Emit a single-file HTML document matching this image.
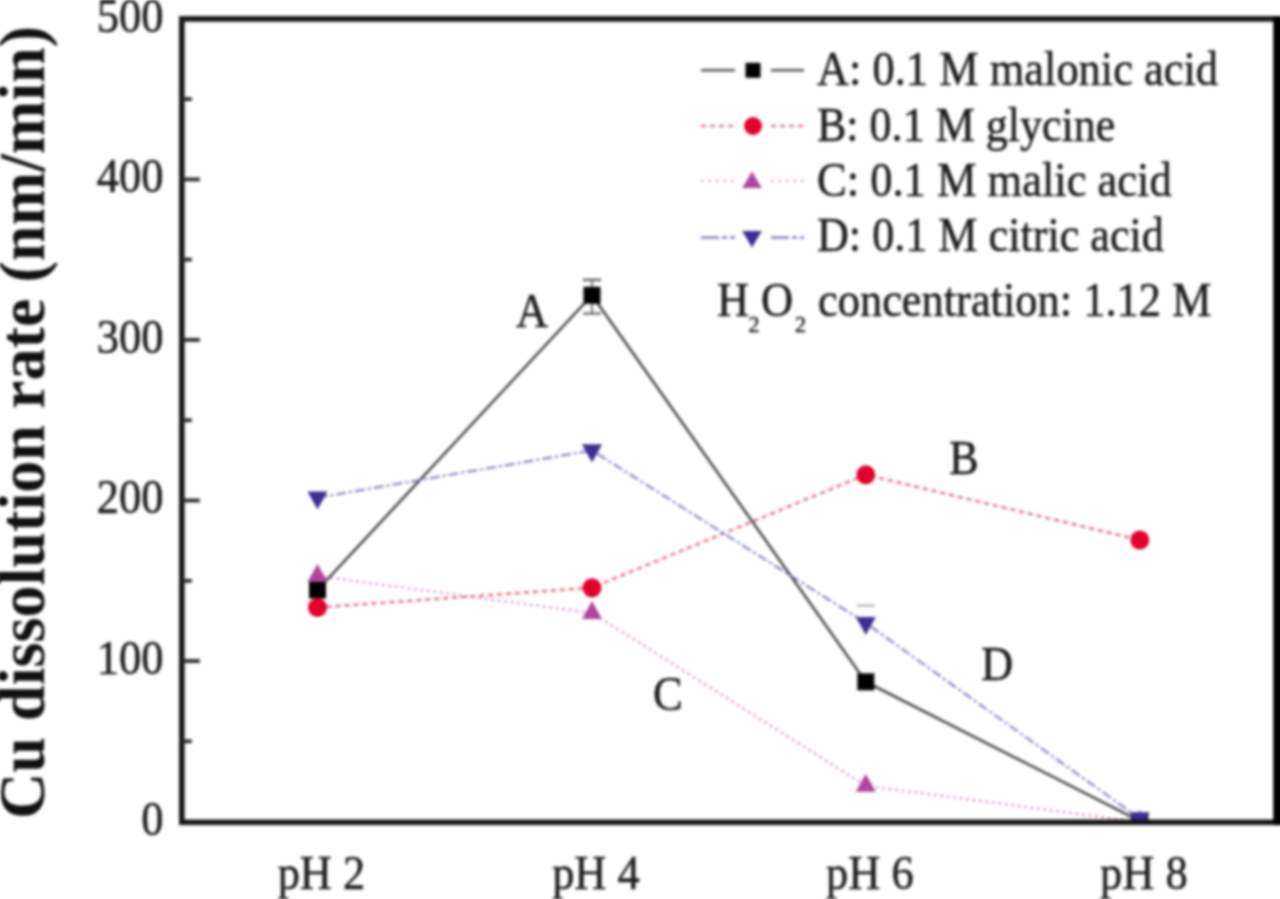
<!DOCTYPE html>
<html><head><meta charset="utf-8"><style>
html,body{margin:0;padding:0;background:#fff;width:1280px;height:899px;overflow:hidden}
svg{display:block;position:absolute;left:-20px;top:-20px;font-family:"Liberation Serif",serif;filter:blur(1.8px)}
</style></head><body>
<svg width="1320" height="939" viewBox="-20 -20 1320 939">
<defs><clipPath id="plotclip"><rect x="181.8" y="18.9" width="1094.8" height="804.9"/></clipPath></defs>
<rect x="-20" y="-20" width="1320" height="939" fill="#fff"/>
<g clip-path="url(#plotclip)">
<polyline points="317.5,590.0 592.0,295.3 865.8,681.8 1139.8,821.0" fill="none" stroke="#333" stroke-width="2.3"/>
<line x1="592.0" y1="279.8" x2="592.0" y2="313.5" stroke="#555" stroke-width="1.6"/><line x1="583.0" y1="279.8" x2="601.0" y2="279.8" stroke="#555" stroke-width="2.2"/><line x1="583.0" y1="313.5" x2="601.0" y2="313.5" stroke="#555" stroke-width="2.2"/>
<rect x="309.0" y="581.5" width="17" height="17" fill="#000"/>
<rect x="583.5" y="286.8" width="17" height="17" fill="#000"/>
<rect x="857.3" y="673.3" width="17" height="17" fill="#000"/>
<rect x="1131.3" y="812.5" width="17" height="17" fill="#000"/>
<polyline points="317.5,607.5 592.0,587.7 865.8,474.7 1139.8,540.0" fill="none" stroke="#e64a6a" stroke-width="2" stroke-dasharray="5 4"/>
<circle cx="317.5" cy="607.5" r="9.5" fill="#e2002c"/>
<circle cx="592.0" cy="587.7" r="9.5" fill="#e2002c"/>
<circle cx="865.8" cy="474.7" r="9.5" fill="#e2002c"/>
<circle cx="1139.8" cy="540.0" r="9.5" fill="#e2002c"/>
<polyline points="317.5,576.0 592.0,613.0 865.8,785.8 1139.8,822.0" fill="none" stroke="#d07cc0" stroke-width="2" stroke-dasharray="2.5 4"/>
<polygon points="317.5,564.0 327.5,582.0 307.5,582.0" fill="#b0459a"/>
<polygon points="592.0,601.0 602.0,619.0 582.0,619.0" fill="#b0459a"/>
<polygon points="865.8,773.8 875.8,791.8 855.8,791.8" fill="#b0459a"/>
<polygon points="1139.8,810.0 1149.8,828.0 1129.8,828.0" fill="#b0459a"/>
<polyline points="317.5,497.6 592.0,450.4 865.8,623.0 1139.8,818.6" fill="none" stroke="#7c76bc" stroke-width="2" stroke-dasharray="10 3 3 3"/>
<line x1="583.0" y1="445" x2="601.0" y2="445" stroke="#aaa" stroke-width="2"/>
<line x1="856.8" y1="605.5" x2="874.8" y2="605.5" stroke="#aaa" stroke-width="2"/>
<polygon points="317.5,509.6 327.5,491.6 307.5,491.6" fill="#3c2e92"/>
<polygon points="592.0,462.4 602.0,444.4 582.0,444.4" fill="#3c2e92"/>
<polygon points="865.8,635.0 875.8,617.0 855.8,617.0" fill="#3c2e92"/>
<polygon points="1139.8,830.6 1149.8,812.6 1129.8,812.6" fill="#3c2e92"/>
</g>
<rect x="181.8" y="18.9" width="1094.8" height="803.4" fill="none" stroke="#161616" stroke-width="5.6"/>
<rect x="1273.3" y="16.099999999999998" width="20" height="809.0" fill="#000"/>
<line x1="181.8" y1="741.3" x2="191.8" y2="741.3" stroke="#2a2a2a" stroke-width="3.8"/>
<line x1="181.8" y1="661.0" x2="199.8" y2="661.0" stroke="#2a2a2a" stroke-width="3.8"/>
<line x1="181.8" y1="580.8" x2="191.8" y2="580.8" stroke="#2a2a2a" stroke-width="3.8"/>
<line x1="181.8" y1="500.5" x2="199.8" y2="500.5" stroke="#2a2a2a" stroke-width="3.8"/>
<line x1="181.8" y1="420.2" x2="191.8" y2="420.2" stroke="#2a2a2a" stroke-width="3.8"/>
<line x1="181.8" y1="339.9" x2="199.8" y2="339.9" stroke="#2a2a2a" stroke-width="3.8"/>
<line x1="181.8" y1="259.6" x2="191.8" y2="259.6" stroke="#2a2a2a" stroke-width="3.8"/>
<line x1="181.8" y1="179.4" x2="199.8" y2="179.4" stroke="#2a2a2a" stroke-width="3.8"/>
<line x1="181.8" y1="99.1" x2="191.8" y2="99.1" stroke="#2a2a2a" stroke-width="3.8"/>
<text transform="translate(163.50,834.60) scale(1,1.08)" font-size="44.5" font-family="'Liberation Serif', serif" fill="#1c1c1c" stroke="#1c1c1c" stroke-width="0.5" text-anchor="end">0</text>
<text transform="translate(163.50,674.04) scale(1,1.08)" font-size="44.5" font-family="'Liberation Serif', serif" fill="#1c1c1c" stroke="#1c1c1c" stroke-width="0.5" text-anchor="end">100</text>
<text transform="translate(163.50,513.48) scale(1,1.08)" font-size="44.5" font-family="'Liberation Serif', serif" fill="#1c1c1c" stroke="#1c1c1c" stroke-width="0.5" text-anchor="end">200</text>
<text transform="translate(163.50,352.92) scale(1,1.08)" font-size="44.5" font-family="'Liberation Serif', serif" fill="#1c1c1c" stroke="#1c1c1c" stroke-width="0.5" text-anchor="end">300</text>
<text transform="translate(163.50,192.36) scale(1,1.08)" font-size="44.5" font-family="'Liberation Serif', serif" fill="#1c1c1c" stroke="#1c1c1c" stroke-width="0.5" text-anchor="end">400</text>
<text transform="translate(163.50,31.80) scale(1,1.08)" font-size="44.5" font-family="'Liberation Serif', serif" fill="#1c1c1c" stroke="#1c1c1c" stroke-width="0.5" text-anchor="end">500</text>
<text transform="translate(321.50,889.00) scale(1,1.08)" font-size="44.5" font-family="'Liberation Serif', serif" fill="#1c1c1c" stroke="#1c1c1c" stroke-width="0.5" text-anchor="middle">pH 2</text>
<text transform="translate(596.00,889.00) scale(1,1.08)" font-size="44.5" font-family="'Liberation Serif', serif" fill="#1c1c1c" stroke="#1c1c1c" stroke-width="0.5" text-anchor="middle">pH 4</text>
<text transform="translate(869.80,889.00) scale(1,1.08)" font-size="44.5" font-family="'Liberation Serif', serif" fill="#1c1c1c" stroke="#1c1c1c" stroke-width="0.5" text-anchor="middle">pH 6</text>
<text transform="translate(1143.80,889.00) scale(1,1.08)" font-size="44.5" font-family="'Liberation Serif', serif" fill="#1c1c1c" stroke="#1c1c1c" stroke-width="0.5" text-anchor="middle">pH 8</text>
<text transform="translate(43.5,819) rotate(-90)" x="0" y="0" font-size="66" font-weight="bold" font-family="'Liberation Serif', serif" fill="#111" textLength="793" lengthAdjust="spacingAndGlyphs">Cu dissolution rate (nm/min)</text>
<text transform="translate(516.00,327.00) scale(1,1.08)" font-size="44.5" font-family="'Liberation Serif', serif" fill="#1c1c1c" stroke="#1c1c1c" stroke-width="0.5">A</text>
<text transform="translate(949.00,473.50) scale(1,1.08)" font-size="44.5" font-family="'Liberation Serif', serif" fill="#1c1c1c" stroke="#1c1c1c" stroke-width="0.5">B</text>
<text transform="translate(653.00,710.00) scale(1,1.08)" font-size="44.5" font-family="'Liberation Serif', serif" fill="#1c1c1c" stroke="#1c1c1c" stroke-width="0.5">C</text>
<text transform="translate(981.00,680.00) scale(1,1.08)" font-size="44.5" font-family="'Liberation Serif', serif" fill="#1c1c1c" stroke="#1c1c1c" stroke-width="0.5">D</text>
<text transform="translate(817.00,84.80) scale(1,1.08)" font-size="44.5" font-family="'Liberation Serif', serif" fill="#1c1c1c" stroke="#1c1c1c" stroke-width="0.5" textLength="401" lengthAdjust="spacingAndGlyphs">A: 0.1 M malonic acid</text>
<line x1="701" y1="70.3" x2="735" y2="70.3" stroke="#555" stroke-width="2.4"/>
<line x1="771" y1="70.3" x2="804" y2="70.3" stroke="#555" stroke-width="2.4"/>
<rect x="745.5" y="62.8" width="15" height="15" fill="#000"/>
<text transform="translate(817.00,140.50) scale(1,1.08)" font-size="44.5" font-family="'Liberation Serif', serif" fill="#1c1c1c" stroke="#1c1c1c" stroke-width="0.5" textLength="298.4" lengthAdjust="spacingAndGlyphs">B: 0.1 M glycine</text>
<line x1="701" y1="126.0" x2="735" y2="126.0" stroke="#e8607a" stroke-width="2" stroke-dasharray="5 4"/>
<line x1="771" y1="126.0" x2="804" y2="126.0" stroke="#e8607a" stroke-width="2" stroke-dasharray="5 4"/>
<circle cx="753.0" cy="126.0" r="9" fill="#e2002c"/>
<text transform="translate(817.00,195.50) scale(1,1.08)" font-size="44.5" font-family="'Liberation Serif', serif" fill="#1c1c1c" stroke="#1c1c1c" stroke-width="0.5" textLength="354.7" lengthAdjust="spacingAndGlyphs">C: 0.1 M malic acid</text>
<line x1="701" y1="181.0" x2="735" y2="181.0" stroke="#d888c8" stroke-width="2" stroke-dasharray="2.5 5"/>
<line x1="771" y1="181.0" x2="804" y2="181.0" stroke="#d888c8" stroke-width="2" stroke-dasharray="2.5 5"/>
<polygon points="752.0,171.6 761.8,188.1 742.2,188.1" fill="#b0459a"/>
<text transform="translate(817.00,251.30) scale(1,1.08)" font-size="44.5" font-family="'Liberation Serif', serif" fill="#1c1c1c" stroke="#1c1c1c" stroke-width="0.5" textLength="346.8" lengthAdjust="spacingAndGlyphs">D: 0.1 M citric acid</text>
<line x1="701" y1="237.5" x2="735" y2="237.5" stroke="#6a62b0" stroke-width="2.2" stroke-dasharray="18 3 5 3"/>
<line x1="771" y1="237.5" x2="804" y2="237.5" stroke="#6a62b0" stroke-width="2.2" stroke-dasharray="18 3 5 3"/>
<polygon points="752.0,247.6 761.8,231.1 742.2,231.1" fill="#3c2e92"/>
<text transform="translate(717.00,315.90) scale(1,1.08)" font-size="44.5" font-family="'Liberation Serif', serif" fill="#1c1c1c" stroke="#1c1c1c" stroke-width="0.5">H</text>
<text transform="translate(748.50,332.00) scale(1,1.08)" font-size="22" font-family="'Liberation Serif', serif" fill="#1c1c1c" stroke="#1c1c1c" stroke-width="0.5">2</text>
<text transform="translate(761.00,315.90) scale(1,1.08)" font-size="44.5" font-family="'Liberation Serif', serif" fill="#1c1c1c" stroke="#1c1c1c" stroke-width="0.5">O</text>
<text transform="translate(795.00,332.00) scale(1,1.08)" font-size="22" font-family="'Liberation Serif', serif" fill="#1c1c1c" stroke="#1c1c1c" stroke-width="0.5">2</text>
<text transform="translate(818.00,315.90) scale(1,1.08)" font-size="44.5" font-family="'Liberation Serif', serif" fill="#1c1c1c" stroke="#1c1c1c" stroke-width="0.5" textLength="393.5" lengthAdjust="spacingAndGlyphs">concentration: 1.12 M</text>
</svg>
</body></html>
